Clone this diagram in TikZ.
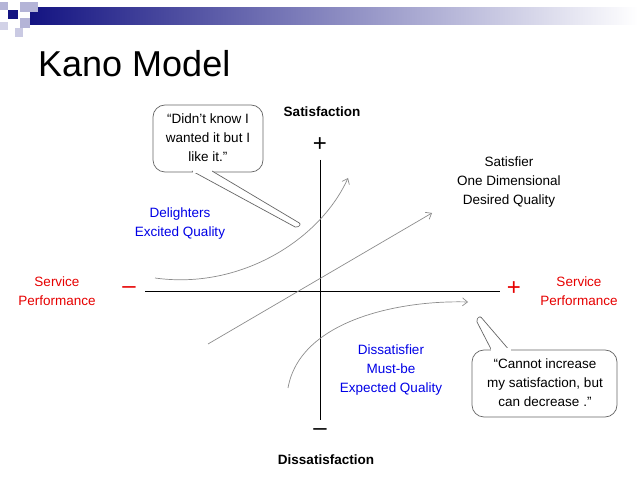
\documentclass[tikz,border=0pt]{standalone}
\usepackage{fontspec}
\setmainfont{Liberation Sans}
\usetikzlibrary{arrows.meta}
\definecolor{navy}{RGB}{20,20,130}
\definecolor{lb}{RGB}{180,180,215}
\definecolor{rd}{RGB}{230,0,0}
\definecolor{bl}{RGB}{0,0,230}
\tikzset{
 lbl/.style={font=\fontsize{13.5}{19}\selectfont, align=center, inner sep=0},
 crv/.style={draw=gray!90, line width=0.7pt, -{Straight Barb[length=5pt,width=8pt]}},
 callout/.style={draw=gray!80!black, line width=0.7pt, fill=white}
}
\begin{document}
\begin{tikzpicture}[x=1pt,y=-1pt]
\useasboundingbox (0,0) rectangle (638,478);
% header decoration
\shade[left color=navy, right color=white] (30,8) rectangle (638,25);
\fill[navy] (8,10) rectangle (18,19);
\fill[lb] (0,2) rectangle (8,10);
\fill[lb] (20,2) rectangle (38,12);
\fill[lb] (20,18) rectangle (30,28);
\fill[lb!70] (15,28) rectangle (23,37);
\fill[lb!60] (0,22) rectangle (8,30);
\node[anchor=west, inner sep=0, font=\fontsize{36}{40}\selectfont] (title) at (38,64) {Kano Model};
% axes
\coordinate (L) at (145,291); \coordinate (R) at (500,291);
\coordinate (T) at (320,160); \coordinate (B) at (320,420);
\draw[line width=0.8pt] (L) -- (R);
\draw[line width=0.8pt] (T) -- (B);
\node[font=\fontsize{24}{24}\selectfont] (pt) at (320,145) {+};
\node[font=\fontsize{24}{24}\selectfont] (mb) at (320,432) {–};
\node[font=\fontsize{24}{24}\selectfont, text=rd] (pr) at (514,289) {+};
\node[font=\fontsize{24}{24}\selectfont, text=rd] (ml) at (129,290) {–};
\node[lbl, font=\bfseries\fontsize{13.5}{19}\selectfont] (sat) at (322,112) {Satisfaction};
\node[lbl, font=\bfseries\fontsize{13.5}{19}\selectfont] (dis) at (326,460) {Dissatisfaction};
\node[lbl, text=rd] (spl) at (57,291) {Service\\Performance};
\node[lbl, text=rd] (spr) at (579,291) {Service\\Performance};
\node[lbl, text=bl] (del) at (180,224) {Delighters\\Excited Quality};
\node[lbl] (sf) at (509,182) {Satisfier\\One Dimensional\\Desired Quality};
\node[lbl, text=bl] (mu) at (391,370) {Dissatisfier\\Must-be\\Expected Quality};
% curves
\coordinate (d1) at (155,278); \coordinate (d2) at (348,178);
\draw[crv] (d1) .. controls (240,290) and (320,240) .. (d2);
\coordinate (s1) at (208,344); \coordinate (s2) at (432,213);
\draw[crv] (s1) -- (s2);
\coordinate (m1) at (288,388); \coordinate (m2) at (468,302);
\draw[crv] (m1) .. controls (300,320) and (400,300) .. (m2);
% callouts
\draw[callout, rounded corners=12pt] (153,105) rectangle (263,172);
\draw[callout, rounded corners=2pt] (192,171) -- (297,228) -- (301,224) -- (212,171);
\fill[white] (193,168) rectangle (212,173.5);
\node[lbl] (c1) at (208,138) {“Didn’t know I\\wanted it but I\\like it.”};
\draw[callout, rounded corners=12pt] (472,350) rectangle (617,417);
\draw[callout, rounded corners=2pt] (510,351) -- (480,316) -- (476,320) -- (492,351);
\fill[white] (491,348.5) rectangle (511,353);
\node[lbl] (c2) at (545,383) {“Cannot increase\\my satisfaction, but\\can decrease .”};
\end{tikzpicture}
\end{document}
